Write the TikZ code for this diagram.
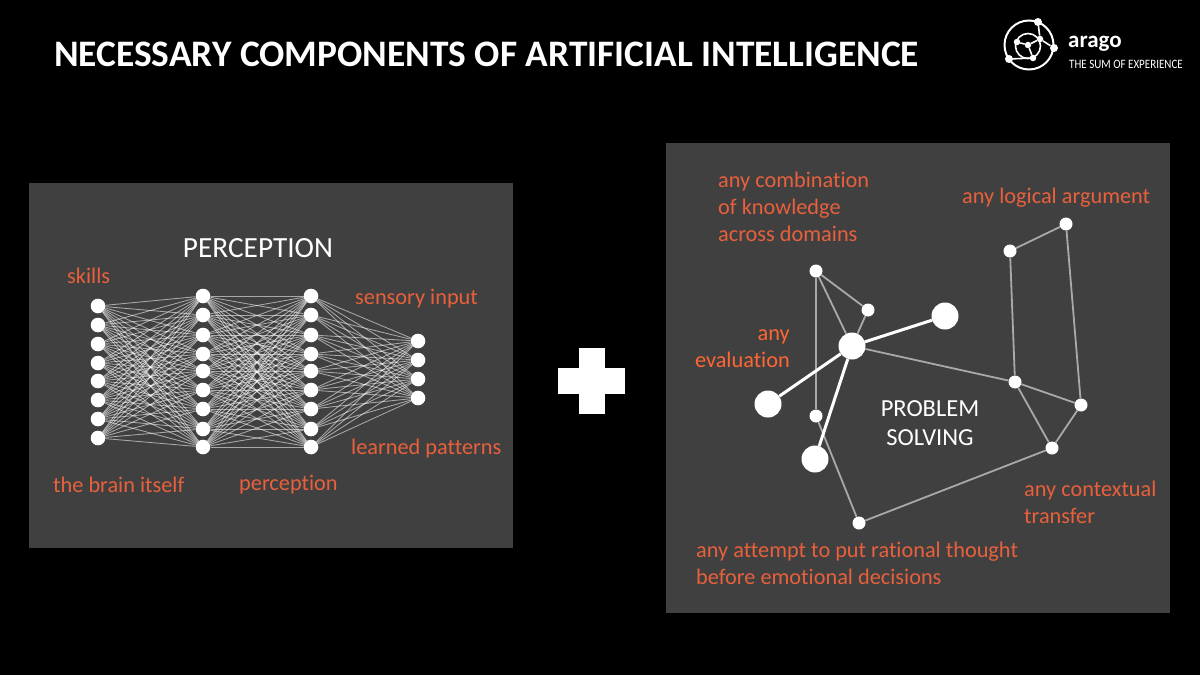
\documentclass[tikz,border=0pt]{standalone}
\usepackage{fontspec}
\setmainfont[Ligatures=NoCommon]{Carlito}
\usepackage{xcolor}
\usepackage{graphicx}
\usetikzlibrary{positioning, calc}
\definecolor{panelgray}{HTML}{404040}
\definecolor{labelred}{HTML}{E8603C}
\definecolor{hotred}{HTML}{FF6633}
\newcommand{\Size}[2][27]{\fontsize{#2}{#1}\selectfont}
\tikzset{
    panel/.style={fill=panelgray, draw=none},
    neuron/.style={circle, fill=white, inner sep=0pt, minimum size=14.6pt},
    small/.style={circle, fill=white, inner sep=0pt, minimum size=13pt},
    big/.style={circle, fill=white, inner sep=0pt, minimum size=27pt},
    dot/.style={circle, fill=white, inner sep=0pt, minimum size=#1},
    mesh/.style={draw=white, draw opacity=0.55, line width=0.85pt},
    thin link/.style={draw=white!55!panelgray, line width=1.8pt},
    thick link/.style={draw=white, line width=3pt},
    logo link/.style={draw=white, line width=1.6pt},
    tag/.style={text=labelred, anchor=west, align=left, inner sep=0pt, font=\Size{22.3}},
    head/.style={text=white, align=center, inner sep=0pt, font=\Size{29.3}}
}

\begin{document}
\begin{tikzpicture}[x=1pt, y=-1pt]

    \fill[black] (0,0) rectangle (1200,675);
    \useasboundingbox (0,0) rectangle (1200,675);
    \draw[panel] (29,183) rectangle (513,548);
    \draw[panel] (666,143) rectangle (1170,613);

    \draw(54,54.5) node[anchor=west, text=white, inner sep=0pt] (title)
    {\fontsize{37.4}{44}\selectfont\bfseries NECESSARY COMPONENTS OF ARTIFICIAL INTELLIGENCE};

    % perception network
    \foreach \n/\y in {1/306,2/325,3/344,4/363,5/381,6/400,7/419,8/438}
        \draw(98,\y) node[neuron] (A\n) {};
    \foreach \n/\y in {1/296,2/315,3/335,4/354,5/371,6/390,7/409,8/429,9/447} {
        \draw(203,\y) node[neuron] (B\n) {};
        \draw(311,\y) node[neuron] (C\n) {};
    }
    \foreach \n/\y in {1/341,2/360,3/379,4/398}
        \draw(418,\y) node[neuron] (D\n) {};

    \foreach \i in {1,...,8}
        \foreach \j in {1,...,9}
            \draw[mesh] (A\i) -- (B\j);
    \foreach \i in {1,...,9}
        \foreach \j in {1,...,9}
            \draw[mesh] (B\i) -- (C\j);
    \foreach \i in {1,...,9}
        \foreach \j in {1,...,4}
            \draw[mesh] (C\i) -- (D\j);

    \draw(258,248) node[head] (perc) {PERCEPTION};
    \draw(67,276) node[tag] (skills) {skills};
    \draw(355,299) node[tag] (sensory) {sensory input};
    \draw(351,449) node[tag] (learned) {learned patterns};
    \draw(53,485) node[tag] (brain) {the brain itself};
    \draw(239,485) node[tag] (percept) {perception};

    % plus sign
    \draw(591.5,381) node[fill=white, minimum width=67pt, minimum height=26pt, inner sep=0pt] (plusH) {};
    \draw(591.5,381) node[fill=white, minimum width=26pt, minimum height=66pt, inner sep=0pt] (plusV) {};

    % problem solving graph
    \draw(816,271) node[small] (a) {};
    \draw(868,310) node[small] (b) {};
    \draw(852,346) node[big] (c) {};
    \draw(945,316) node[big] (d) {};
    \draw(768,404) node[big] (e) {};
    \draw(815,459) node[big] (f) {};
    \draw(816,416) node[small] (g) {};
    \draw(859,523) node[small] (h) {};
    \draw(1052,448) node[small] (i) {};
    \draw(1081,405) node[small] (j) {};
    \draw(1015,382) node[small] (k) {};
    \draw(1010,251) node[small] (l) {};
    \draw(1066,224) node[small] (m) {};

    \foreach \s/\t in {a/g,a/b,a/c,b/c,c/k,k/l,l/m,m/j,k/j,k/i,j/i,i/h,h/g}
        \draw[thin link] (\s) -- (\t);
    \foreach \t in {d,e,f}
        \draw[thick link] (c) -- (\t);

    \draw(930,423) node[head, font={\Size[29]{24.5}}] (solving) {PROBLEM\\SOLVING};
    \draw(718,207) node[tag] (combi) {any combination\\of knowledge\\across domains};
    \draw(962,197.5) node[tag] (logic) {any logical argument};
    \draw(790,349) node[tag, anchor=east, align=right, text=hotred] (eval) {any\\evaluation};
    \draw(1024,502) node[tag] (context) {any contextual\\transfer};
    \draw(696,563.5) node[tag] (rational) {any attempt to put rational thought\\before emotional decisions};

    % logo
    \draw(1029,45) node[circle, draw=white, line width=2pt, inner sep=0pt, minimum size=49pt] (ring) {};
    \draw(1028,46) node[circle, draw=white, line width=1.6pt, inner sep=0pt, minimum size=25pt] (inner) {};
    \draw(1038,22) node[dot=8pt] (L1) {};
    \draw(1054,48) node[dot=8pt] (L2) {};
    \draw(1009,59) node[dot=8pt] (L3) {};
    \draw(1017,42) node[dot=6.5pt] (L4) {};
    \draw(1028,45) node[dot=6.5pt] (L5) {};
    \draw(1040,39) node[dot=6.5pt] (L6) {};
    \draw(1033,58) node[dot=6.5pt] (L7) {};
    \foreach \s/\t in {L5/L4,L5/L6,L5/L7,L1/L6,L2/L6,L3/L7}
        \draw[logo link] (\s) -- (\t);
    \draw(1068,44) node[anchor=west, text=white, inner sep=0pt] (arago)
    {\fontsize{23}{27}\selectfont\bfseries arago};
    \draw(1069,64) node[anchor=west, text=white, inner sep=0pt] (sum)
    {\scalebox{0.86}[1]{\fontsize{12.8}{14}\selectfont THE SUM OF EXPERIENCE}};

\end{tikzpicture}
\end{document}
